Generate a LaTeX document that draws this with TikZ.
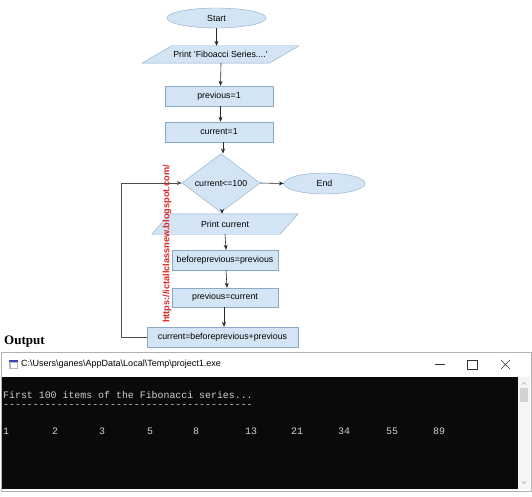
\documentclass[tikz,border=0pt]{standalone}
\usepackage{fontspec}
\setmainfont{Liberation Sans}
\newfontfamily\serifb{Liberation Serif}
\newfontfamily\monof{Liberation Mono}
\usetikzlibrary{shapes.geometric,arrows.meta,backgrounds}
\definecolor{boxfill}{HTML}{D3E5F5}
\definecolor{boxline}{HTML}{8AA9C7}
\definecolor{urlred}{HTML}{E02424}
\definecolor{contxt}{HTML}{CFCFCF}
\tikzset{
  flow/.style={draw=boxline, fill=boxfill, font=\fontsize{8.8}{10}\selectfont, inner sep=0pt},
  procbox/.style={flow, rectangle, minimum width=108, minimum height=20},
  termbox/.style={flow, ellipse, minimum width=99, minimum height=20},
  iobox/.style={font=\fontsize{8.8}{10}\selectfont, inner sep=0pt, minimum height=18},
  para/.style={draw=boxline, fill=boxfill},
  arr/.style={-{Stealth[length=5pt,width=4pt]}, draw=black!85, line width=0.6pt},
  context/.style={anchor=west, text=contxt, font=\monof\fontsize{9.9}{11}\selectfont, inner sep=0pt},
  winbtn/.style={draw=black!80, line width=0.6pt}
}
\begin{document}
\begin{tikzpicture}[x=1pt,y=-1pt]
\useasboundingbox (0,0) rectangle (532,497);
\begin{pgfonlayer}{background}
\fill[white] (0,0) rectangle (532,497);
\end{pgfonlayer}

% flowchart nodes
\node[termbox] (start) at (216.5,18) {Start};
\node[iobox, minimum width=127, minimum height=17] (p1) at (220.5,54.5) {Print 'Fiboacci Series....'};
\node[procbox] (prev) at (219,96) {previous=1};
\node[procbox] (cur) at (219,132) {current=1};
\node[flow, diamond, minimum width=78, minimum height=38] (dia) at (221,183) {current<=100};
\node[termbox, minimum width=81, minimum height=21] (endn) at (324.5,183.5) {End};
\node[iobox, minimum width=128, minimum height=20] (pc) at (225,224) {Print current};
\node[procbox, minimum width=106] (bp) at (225,260) {beforeprevious=previous};
\node[procbox, minimum width=106, minimum height=19] (pc2) at (225,297.5) {previous=current};
\node[procbox, minimum width=151] (last) at (222.5,337) {current=beforeprevious+previous};

\begin{pgfonlayer}{background}
\filldraw[para] ([xshift=15]p1.north west) -- ([xshift=15]p1.north east) -- ([xshift=-15]p1.south east) -- ([xshift=-15]p1.south west) -- cycle;
\filldraw[para] ([xshift=9]pc.north west) -- ([xshift=9]pc.north east) -- ([xshift=-9]pc.south east) -- ([xshift=-9]pc.south west) -- cycle;
\end{pgfonlayer}

% connectors
\draw[arr] (start.south) -- (start.south |- p1.north);
\draw[arr] ([xshift=0.5]p1.south) -- ([xshift=1.5]prev.north);
\draw[arr] ([xshift=1.5]prev.north |- prev.south) -- ([xshift=1.5]cur.north);
\draw[arr] ([xshift=4]cur.south) -- ([xshift=2]dia.north);
\draw[arr] (dia.east) -- (endn.west);
\draw[arr] ([xshift=1]dia.south) -- ([xshift=-3]pc.north);
\draw[arr] (pc.south) -- ([xshift=1]bp.north);
\draw[arr] ([xshift=1]bp.south) -- ([xshift=2]pc2.north);
\draw[arr] ([xshift=-1]pc2.south) -- ([xshift=1.5]last.north);
\coordinate (lb) at (121,337);
\coordinate (lt) at (121,183);
\draw[arr, draw=black!70] (last.west) -- (lb) -- (lt) -- (dia.west);

% watermark
\node[rotate=90, text=urlred, font=\bfseries\fontsize{9.2}{10}\selectfont, inner sep=0pt] (url) at (167,244) {https://ictallclassnew.blogspot.com/};

% output section
\node[anchor=west, inner sep=0pt, font=\serifb\bfseries\fontsize{13}{14}\selectfont] (out) at (4,342) {Output};
\draw[gray!60, fill=white] (1,352) rectangle (531,491);
\fill[gray!55] (9,360) rectangle (18,369);
\fill[white] (10.5,362.5) rectangle (16.5,367.5);
\fill[blue!50!gray] (9,360) rectangle (18,361.5);
\node[anchor=west, inner sep=0pt, font=\fontsize{9}{10}\selectfont] (title) at (21,364.5) {C:\textbackslash Users\textbackslash ganes\textbackslash AppData\textbackslash Local\textbackslash Temp\textbackslash project1.exe};
\draw[winbtn] (435,364.5) -- (445,364.5);
\draw[winbtn] (467.5,360) rectangle (477,369);
\draw[winbtn] (501,360) -- (510,369) (501,369) -- (510,360);

% console
\fill[black!96] (2,377) rectangle (518,489);
\fill[gray!8] (518,377) rectangle (530,489);
\fill[gray!35] (520,388) rectangle (528,402);
\draw[gray!70, line width=0.6pt] (522,384.5) -- (524,382.5) -- (526,384.5);
\draw[gray!70, line width=0.6pt] (522,481.5) -- (524,483.5) -- (526,481.5);
\node[context] (l1) at (3,395) {First 100 items of the Fibonacci series...};
\node[context] (l2) at (3,406) {-{}-{}-{}-{}-{}-{}-{}-{}-{}-{}-{}-{}-{}-{}-{}-{}-{}-{}-{}-{}-{}-{}-{}-{}-{}-{}-{}-{}-{}-{}-{}-{}-{}-{}-{}-{}-{}-{}-{}-{}-{}-{}};
\foreach \xx/\vv in {3/1, 52/2, 99/3, 147/5, 193/8, 245/13, 291/21, 338/34, 386/55, 433/89}
  \node[context] (n\vv) at (\xx,431) {\vv};
\end{tikzpicture}
\end{document}
